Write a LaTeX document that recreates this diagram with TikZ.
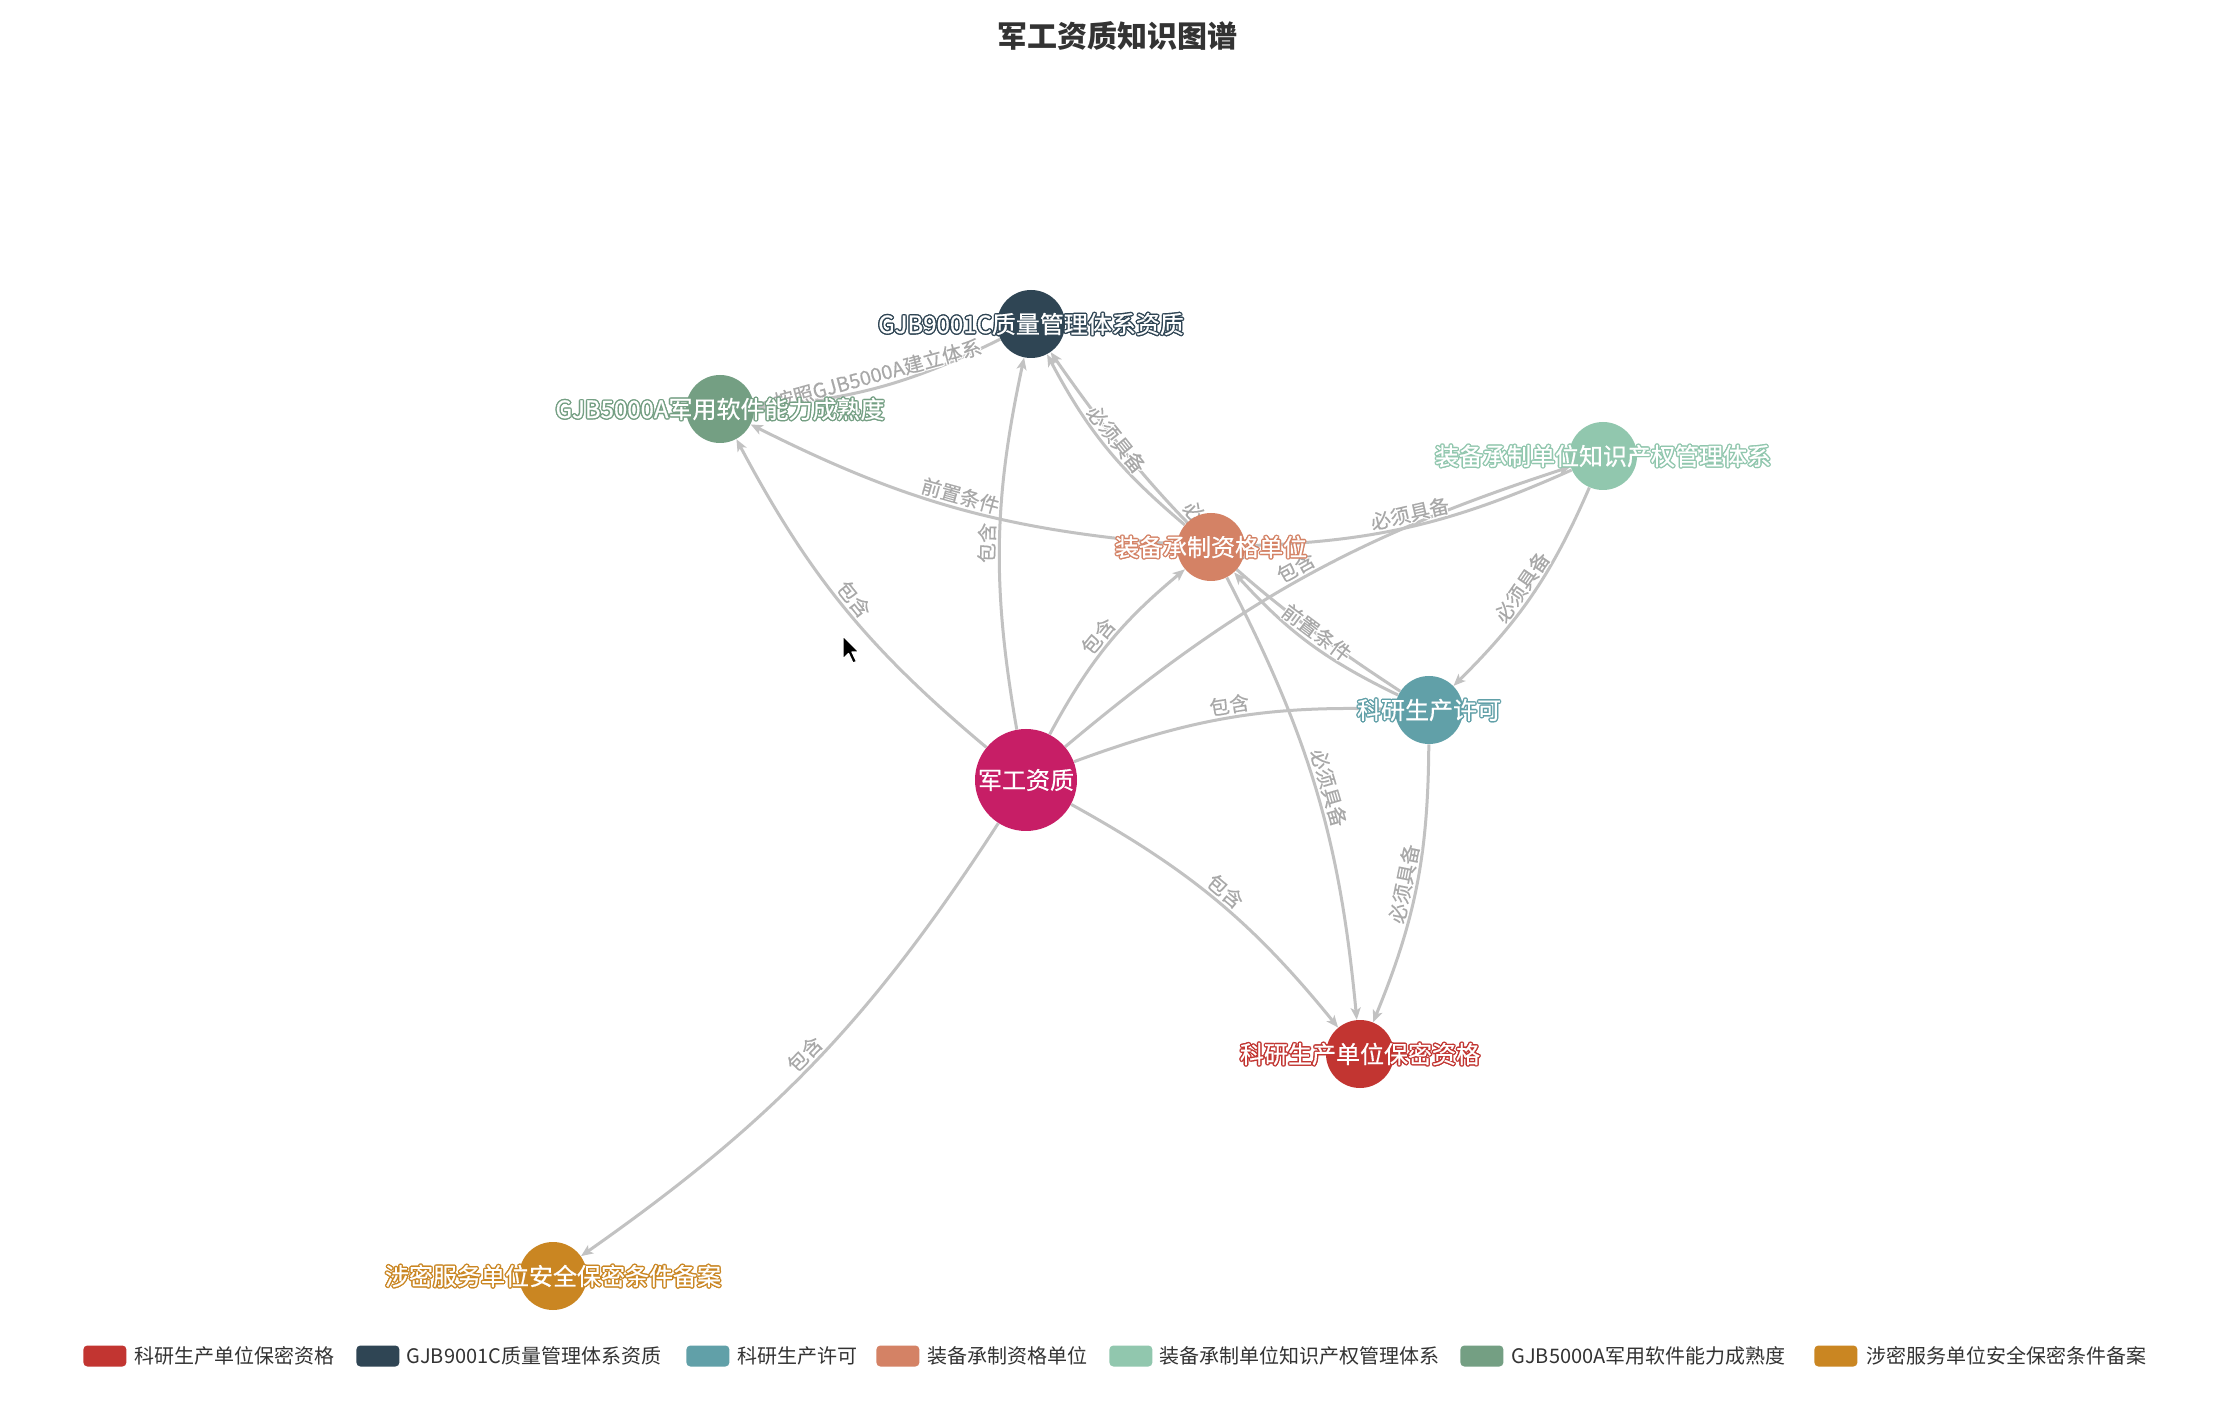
\documentclass[tikz,border=0pt]{standalone}
\usepackage{fontspec}
\setmainfont{Noto Sans CJK SC}
\newfontfamily\labfont{Noto Sans CJK SC}[FakeBold=0.6]
\newfontfamily\elabfont{Noto Sans CJK SC}[FakeBold=0.3]
\usetikzlibrary{arrows.meta}
\pgfdeclarelayer{bg}
\pgfdeclarelayer{edges}
\pgfdeclarelayer{elabels}
\pgfsetlayers{bg,edges,elabels,main}

\definecolor{cBM}{HTML}{C23531}
\definecolor{cG9}{HTML}{2F4554}
\definecolor{cKY}{HTML}{61A0A8}
\definecolor{cZB}{HTML}{D48265}
\definecolor{cIP}{HTML}{91C7AE}
\definecolor{cG5}{HTML}{749F83}
\definecolor{cSM}{HTML}{CA8622}
\definecolor{cJG}{HTML}{C71E66}
\definecolor{eline}{HTML}{C2C2C2}
\definecolor{etext}{HTML}{A8A8A8}
\definecolor{ttext}{HTML}{333333}

\newdimen\halod
\newcommand\halotext[4]{%
  \halod=#1\relax
  \setbox0\hbox{#4}%
  \rlap{\color{#2}\kern\halod\copy0}%
  \rlap{\color{#2}\kern-\halod\copy0}%
  \rlap{\color{#2}\raise\halod\copy0}%
  \rlap{\color{#2}\lower\halod\copy0}%
  \rlap{\color{#2}\kern0.7\halod\raise0.7\halod\copy0}%
  \rlap{\color{#2}\kern0.7\halod\lower0.7\halod\copy0}%
  \rlap{\color{#2}\kern-0.7\halod\raise0.7\halod\copy0}%
  \rlap{\color{#2}\kern-0.7\halod\lower0.7\halod\copy0}%
  {\color{#3}\box0}}

\tikzset{
  qnode/.style={circle, inner sep=0pt, minimum size=34pt, draw=none},
  nlabel/.style={inner sep=0pt, font=\labfont\fontsize{12}{14}\selectfont},
  edgeline/.style={draw=eline, line width=1.5pt, -{Stealth[length=6pt,width=5pt,inset=1.5pt]}},
  elab/.style={midway, sloped, above=0.5pt, inner sep=0.5pt, font=\elabfont\fontsize{10}{12}\selectfont},
  legbox/.style={rounded corners=2pt, minimum width=21.5pt, minimum height=10.5pt, inner sep=0pt, anchor=west},
  legtext/.style={anchor=west, inner sep=0pt, text=ttext, font=\fontsize{10}{12}\selectfont},
}

\newcommand\qedge[3]{%
  \begin{pgfonlayer}{edges}\draw[edgeline] (#1) to[bend left=11] (#2);\end{pgfonlayer}
  \begin{pgfonlayer}{elabels}\path (#1) to[bend left=11] node[elab] {\halotext{0.6pt}{white}{etext}{#3}} (#2);\end{pgfonlayer}}

\begin{document}
\begin{tikzpicture}[x=0.5pt,y=-0.5pt]
\begin{pgfonlayer}{bg}
\fill[white] (0,0) rectangle (2240,1406);
\end{pgfonlayer}
\useasboundingbox (0,0) rectangle (2240,1406);

% nodes
\node[qnode, fill=cG9] (G9) at (1031,324) {};
\node[qnode, fill=cG5] (G5) at (720,409) {};
\node[qnode, fill=cIP] (IP) at (1603,456) {};
\node[qnode, fill=cZB] (ZB) at (1211,547) {};
\node[qnode, fill=cKY] (KY) at (1429,710) {};
\node[qnode, fill=cJG, minimum size=51pt] (JG) at (1026,780) {};
\node[qnode, fill=cBM] (BM) at (1360,1054) {};
\node[qnode, fill=cSM] (SM) at (553,1276) {};

% edges
\qedge{JG}{G9}{包含}
\qedge{JG}{G5}{包含}
\qedge{JG}{ZB}{包含}
\qedge{JG}{IP}{包含}
\qedge{JG}{KY}{包含}
\qedge{JG}{BM}{包含}
\qedge{JG}{SM}{包含}
\qedge{G9}{G5}{按照GJB5000A建立体系}
\qedge{ZB}{G5}{前置条件}
\qedge{ZB}{G9}{必须具备}
\qedge{KY}{G9}{必须具备}
\qedge{KY}{ZB}{前置条件}
\qedge{IP}{ZB}{必须具备}
\qedge{IP}{KY}{必须具备}
\qedge{ZB}{BM}{必须具备}
\qedge{KY}{BM}{必须具备}

% node labels
\node[nlabel] (G9l) at (G9) {\halotext{0.7pt}{cG9}{white}{GJB9001C质量管理体系资质}};
\node[nlabel] (G5l) at (G5) {\halotext{0.7pt}{cG5}{white}{GJB5000A军用软件能力成熟度}};
\node[nlabel] (IPl) at (IP) {\halotext{0.7pt}{cIP}{white}{装备承制单位知识产权管理体系}};
\node[nlabel] (ZBl) at (ZB) {\halotext{0.7pt}{cZB}{white}{装备承制资格单位}};
\node[nlabel] (KYl) at (KY) {\halotext{0.7pt}{cKY}{white}{科研生产许可}};
\node[nlabel] (JGl) at (JG) {\halotext{0.7pt}{cJG}{white}{军工资质}};
\node[nlabel] (BMl) at (BM) {\halotext{0.7pt}{cBM}{white}{科研生产单位保密资格}};
\node[nlabel] (SMl) at (SM) {\halotext{0.7pt}{cSM}{white}{涉密服务单位安全保密条件备案}};

% title
\node[font=\bfseries\fontsize{15}{18}\selectfont, text=ttext] (title) at (1117,36) {军工资质知识图谱};

% cursor
\filldraw[fill=black, draw=white, line width=0.6pt, line join=round] (843,636) -- (843,659) -- (848.5,653.5) -- (853,663) -- (856.5,661.5) -- (852,652) -- (859,652) -- cycle;

% legend
\node[legbox, fill=cBM] (lg1) at (83,1356) {};
\node[legtext] (lt1) at (134,1356) {科研生产单位保密资格};
\node[legbox, fill=cG9] (lg2) at (356,1356) {};
\node[legtext] (lt2) at (406,1356) {GJB9001C质量管理体系资质};
\node[legbox, fill=cKY] (lg3) at (686,1356) {};
\node[legtext] (lt3) at (737,1356) {科研生产许可};
\node[legbox, fill=cZB] (lg4) at (876,1356) {};
\node[legtext] (lt4) at (927,1356) {装备承制资格单位};
\node[legbox, fill=cIP] (lg5) at (1109,1356) {};
\node[legtext] (lt5) at (1159,1356) {装备承制单位知识产权管理体系};
\node[legbox, fill=cG5] (lg6) at (1460,1356) {};
\node[legtext] (lt6) at (1511,1356) {GJB5000A军用软件能力成熟度};
\node[legbox, fill=cSM] (lg7) at (1814,1356) {};
\node[legtext] (lt7) at (1866,1356) {涉密服务单位安全保密条件备案};
\end{tikzpicture}
\end{document}
